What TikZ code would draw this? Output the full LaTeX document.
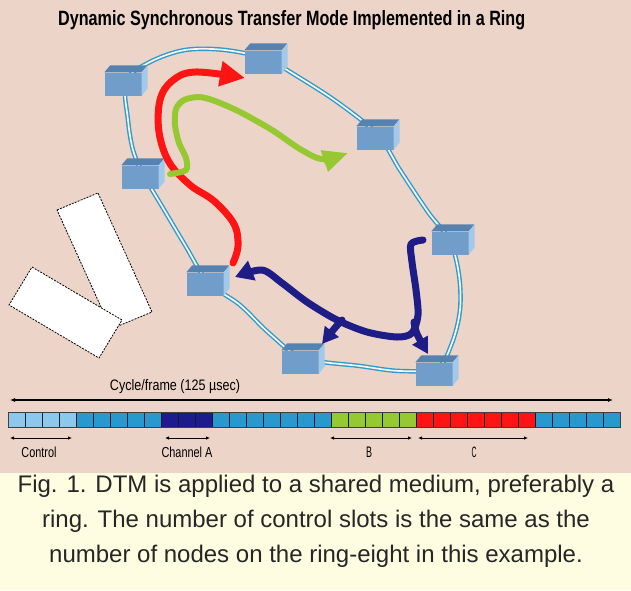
\documentclass[tikz,border=0pt]{standalone}
\usepackage{fontspec}
\setmainfont{Liberation Sans}
\usetikzlibrary{arrows.meta}
\definecolor{bgpink}{RGB}{236,213,200}
\definecolor{capyellow}{RGB}{254,253,226}
\definecolor{cubefront}{RGB}{112,157,202}
\definecolor{cubetop}{RGB}{86,130,176}
\definecolor{cubeside}{RGB}{162,200,234}
\definecolor{ringc}{RGB}{45,155,205}
\definecolor{redc}{RGB}{255,20,20}
\definecolor{greenc}{RGB}{150,200,50}
\definecolor{navyc}{RGB}{30,28,135}
\definecolor{slotlight}{RGB}{140,200,235}
\definecolor{slotblue}{RGB}{40,152,205}
\definecolor{slotnavy}{RGB}{30,28,140}
\definecolor{slotgreen}{RGB}{150,200,50}
\definecolor{slotred}{RGB}{255,20,20}
\newcommand\fitlbl[3]{\resizebox{#1}{#2}{#3}}
\begin{document}
\begin{tikzpicture}[x=1pt,y=-1pt,
  cubebox/.style={fill=cubefront, minimum width=37pt, minimum height=23pt, inner sep=0pt},
  ringline/.style={draw=ringc, line width=1.4pt, double=white!70!bgpink, double distance=1.7pt},
  flow/.style={line width=7pt, line cap=round, line join=round},
  paper/.style={fill=white, draw=black, line width=0.8pt, dash pattern=on 2pt off 1.2pt},
  slotbox/.style={draw=black!75, line width=0.6pt},
  dimline/.style={line width=0.8pt, {Latex[length=4pt,width=3.5pt]}-{Latex[length=4pt,width=3.5pt]}},
  lbl/.style={inner sep=0pt, anchor=base},
  captxt/.style={lbl, font=\fontsize{24}{28}\selectfont, text=black!85}]
\useasboundingbox (0,0) rectangle (631,590);
\fill[bgpink] (0,0) rectangle (631,473);
\fill[capyellow] (0,473) rectangle (631,590);

% title
\node[lbl, anchor=base west] (title) at (58,25) {\fitlbl{467pt}{15pt}{\bfseries Dynamic Synchronous Transfer Mode Implemented in a Ring}};

% ring
\draw[ringline] plot[smooth cycle, tension=0.55] coordinates {
 (126,81) (150,62) (185,50) (225,50) (266,59) (300,78) (340,104) (378,135)
 (400,170) (428,212) (450,241) (459,275) (460,310) (452,343) (437,368)
 (400,371) (360,366) (303,358) (270,334) (240,305) (208,282) (185,245)
 (163,208) (143,174) (133,150) (128,120)};

% cubes
\foreach \nm/\px/\py in {n1/123/84, n2/263/62, n3/140/177, n4/375/138, n5/450/243, n6/205/284, n7/300/362, n8/434/374}{
  \node[cubebox] (\nm) at (\px,\py) {};
  \fill[cubetop] (\nm.north west) -- ++(6,-7) -- ++(37,0) -- (\nm.north east) -- cycle;
  \fill[cubeside] (\nm.north east) -- ++(6,-7) -- ++(0,23) -- (\nm.south east) -- cycle;
}

% paper sheets
\draw[paper] (57,210) -- (98,193) -- (152,312) -- (111,329) -- cycle;
\draw[paper] (32,267) -- (122,320) -- (99,358) -- (9,305) -- cycle;

% flows
\coordinate (rS) at (233,263);
\coordinate (rE) at (245,78);
\draw[flow, draw=redc, -{Triangle[length=25pt,width=24pt]}] plot[smooth, tension=0.6] coordinates {
 (rS) (238,246) (234,224) (214,201) (190,185) (169,162) (159,132) (160,100) (172,81) (195,72) (rE)};

\coordinate (gS) at (170,174);
\coordinate (gE) at (348,153);
\draw[flow, line width=6pt, draw=greenc, -{Triangle[length=25pt,width=21pt]}] plot[smooth, tension=0.5] coordinates {
 (gS) (186,170) (186,158) (179,143) (175,125) (176,109) (184,100) (199,97) (215,101) (240,112) (272,130) (300,149) (322,159) (gE)};

\coordinate (bS) at (423,240);
\coordinate (bE) at (235,277);
\draw[flow, draw=navyc, -{Triangle[length=18pt,width=20pt]}] plot[smooth, tension=0.5] coordinates {
 (bS) (411,244) (412,262) (416,290) (418,315) (412,333) (397,337) (367,332) (337,320) (307,302) (282,283) (262,270) (bE)};
\coordinate (b8) at (428,354);
\coordinate (b7) at (322,344);
\draw[flow, draw=navyc, -{Triangle[length=16pt,width=17pt]}] plot[smooth] coordinates {(414,322) (417,334) (b8)};
\draw[flow, draw=navyc, -{Triangle[length=16pt,width=17pt]}] plot[smooth] coordinates {(342,320) (334,329) (b7)};

% cycle line
\coordinate (cycL) at (10,400);
\coordinate (cycR) at (613,400);
\draw[line width=1.1pt, {Latex[length=5pt,width=4pt]}-{Latex[length=5pt,width=4pt]}] (cycL) -- (cycR);
\node[lbl] (cyc) at (175,390) {\fitlbl{130pt}{11pt}{Cycle/frame (125 µsec)}};

% slots
\foreach \a/\b/\c in {0/3/slotlight, 4/8/slotblue, 9/11/slotnavy, 12/18/slotblue, 19/23/slotgreen, 24/30/slotred, 31/35/slotblue}{
  \foreach \i in {\a,...,\b}{
    \fill[\c] ({8+17*\i},412) rectangle ++(17,15);
    \draw[slotblue!20!black, line width=0.5pt] ({8+17*\i},412) -- ++(0,15);
  }
}
\draw[slotbox] (8,412) rectangle (620,427);

% dimension arrows
\coordinate (ctlL) at (10,438); \coordinate (ctlR) at (72,438);
\coordinate (chaL) at (165,438); \coordinate (chaR) at (210,438);
\coordinate (chbL) at (330,438); \coordinate (chbR) at (412,438);
\coordinate (chcL) at (418,438); \coordinate (chcR) at (528,438);
\draw[dimline] (ctlL) -- (ctlR);
\draw[dimline] (chaL) -- (chaR);
\draw[dimline] (chbL) -- (chbR);
\draw[dimline] (chcL) -- (chcR);
\node[lbl] (lctl) at (39,457) {\fitlbl{35pt}{10.5pt}{Control}};
\node[lbl] (lcha) at (187,457) {\fitlbl{51pt}{10.5pt}{Channel A}};
\node[lbl] (lchb) at (369,457) {\fitlbl{6pt}{10.5pt}{B}};
\node[lbl] (lchc) at (474,457) {\fitlbl{5pt}{10.5pt}{C}};

% caption
\node[captxt] (cap1) at (316,492) {Fig. 1. DTM is applied to a shared medium, preferably a};
\node[captxt] (cap2) at (316,527) {ring. The number of control slots is the same as the};
\node[captxt] (cap3) at (316,562) {number of nodes on the ring-eight in this example.};
\end{tikzpicture}
\end{document}
